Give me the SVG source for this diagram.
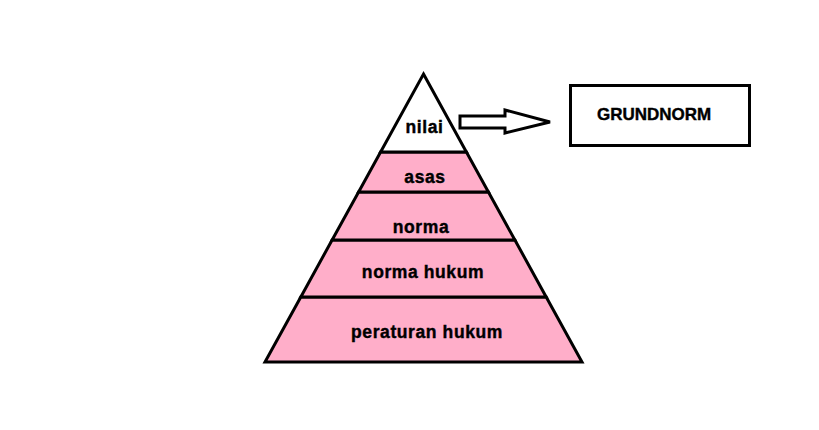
<svg xmlns="http://www.w3.org/2000/svg" width="819" height="430" viewBox="0 0 819 430">
<style>
.band{fill:#FFAEC9;stroke:#000;stroke-width:3;stroke-linejoin:miter}
.top{fill:#fff;stroke:#000;stroke-width:3;stroke-linejoin:miter}
.lbl{font-family:"Liberation Sans",Arial,sans-serif;font-weight:bold;font-size:17.5px;fill:#000;stroke:#000;stroke-width:0.4;text-anchor:middle;letter-spacing:0.6px}
.cap{font-family:"Liberation Sans",Arial,sans-serif;font-weight:bold;font-size:17px;fill:#000;stroke:#000;stroke-width:0.4}
</style>
<rect width="819" height="430" fill="#fff"/>
<g id="peraturan-hukum">
<polygon class="band" points="300.8,297 546.2,297 582,362 265,362"/>
<text class="lbl" x="427" y="338">peraturan hukum</text>
</g>
<g id="norma-hukum">
<polygon class="band" points="332.1,240 514.9,240 546.2,297 300.8,297"/>
<text class="lbl" x="423" y="278">norma hukum</text>
</g>
<g id="norma">
<polygon class="band" points="358.6,192 488.4,192 514.9,240 332.1,240"/>
<text class="lbl" x="421" y="233">norma</text>
</g>
<g id="asas">
<polygon class="band" points="380.6,152 466.4,152 488.4,192 358.6,192"/>
<text class="lbl" x="425" y="183">asas</text>
</g>
<g id="nilai">
<polygon class="top" points="423.5,74 466.4,152 380.6,152"/>
<text class="lbl" x="424.5" y="133">nilai</text>
</g>
<g id="connectors">
<polygon points="460,116 505,116 505,110 550,122 505,133 505,128 460,128" fill="#fff" stroke="#000" stroke-width="3" stroke-linejoin="miter"/>
</g>
<g id="grundnorm">
<rect x="570.5" y="85.5" width="179" height="60" fill="#fff" stroke="#000" stroke-width="3"/>
<text class="cap" x="597" y="120">GRUNDNORM</text>
</g>
</svg>
